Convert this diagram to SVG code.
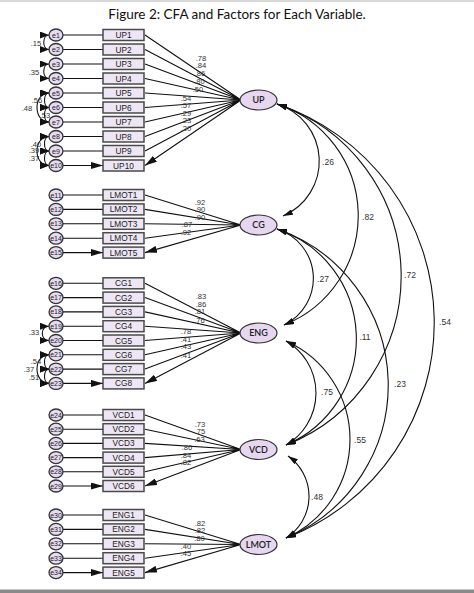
<svg xmlns="http://www.w3.org/2000/svg" width="474" height="593" viewBox="0 0 474 593">
<style>
.bx{fill:#EEE6F4;stroke:#4a4a4a;stroke-width:1.5}
.er{fill:#E6DAF0;stroke:#333;stroke-width:1.3}
.lv{fill:#E6D6F0;stroke:#333;stroke-width:1.2}
.bt{font-family:"Liberation Sans",Arial,sans-serif;font-size:8.3px;fill:#222;text-anchor:middle}
.et{font-family:"Liberation Sans",Arial,sans-serif;font-size:7px;fill:#222;text-anchor:middle}
.lt{font-family:Lato,"Open Sans",sans-serif;font-size:9px;fill:#222;text-anchor:middle;font-weight:600}
.nm{font-family:"Liberation Sans",Arial,sans-serif;font-size:8.5px;fill:#333;text-anchor:middle}
.sm{font-family:"Liberation Sans",Arial,sans-serif;font-size:7.6px;fill:#333;text-anchor:middle}
.ln{stroke:#111;stroke-width:1.1;fill:none;marker-end:url(#ah)}
.cv{stroke:#111;stroke-width:1.1;fill:none;marker-start:url(#ch);marker-end:url(#ch)}
.cl{stroke:#111;stroke-width:1.1;fill:none;marker-start:url(#sh);marker-end:url(#sh)}
</style>
<defs>
<marker id="ah" viewBox="0 0 12 7" markerWidth="12" markerHeight="7" refX="12" refY="3.5" orient="auto" markerUnits="userSpaceOnUse"><path d="M0,0 L12,3.5 L0,7 z" fill="#111"/></marker>
<marker id="ch" viewBox="0 0 10 6" markerWidth="10" markerHeight="6" refX="10" refY="3" orient="auto-start-reverse" markerUnits="userSpaceOnUse"><path d="M0,0 L10,3 L0,6 z" fill="#111"/></marker>
<marker id="sh" viewBox="0 0 9 7" markerWidth="9" markerHeight="7" refX="9" refY="3.5" orient="auto-start-reverse" markerUnits="userSpaceOnUse"><path d="M0,0 L9,3.5 L0,7 z" fill="#111"/></marker>
</defs>
<rect x="0" y="0" width="474" height="2" fill="#d8d8d8"/>
<rect x="0" y="589.5" width="474" height="3.5" fill="#8a8a8a"/>
<text x="237" y="19" style="font-family:Lato,'Open Sans',sans-serif;font-size:13.5px;fill:#111;text-anchor:middle">Figure 2: CFA and Factors for Each Variable.</text>

<g id="connectors">
<path class="ln" d="M63,35H103M63,49.5H103M63,64H103M63,78.5H103M63,93H103M63,107.5H103M63,122H103M63,136.5H103M63,151H103M63,165.5H103"/>
<path class="ln" d="M63,195H103M63,209.4H103M63,223.8H103M63,238.2H103M63,252.6H103"/>
<path class="ln" d="M63,283.3H103M63,297.6H103M63,311.9H103M63,326.2H103M63,340.5H103M63,354.8H103M63,369.1H103M63,383.4H103"/>
<path class="ln" d="M63,415H103M63,429.2H103M63,443.4H103M63,457.6H103M63,471.8H103M63,486H103"/>
<path class="ln" d="M63,515H103M63,529.4H103M63,543.8H103M63,558.2H103M63,572.6H103"/>
<path class="ln" d="M241,100L145,35M241,100L145,49.5M241,100L145,64M241,100L145,78.5M241,100L145,93M241,100L145,107.5M241,100L145,122M241,100L145,136.5M241,100L145,151M241,100L145,165.5"/>
<path class="ln" d="M241,225L145,195M241,225L145,209.4M241,225L145,223.8M241,225L145,238.2M241,225L145,252.6"/>
<path class="ln" d="M241,333L145,283.3M241,333L145,297.6M241,333L145,311.9M241,333L145,326.2M241,333L145,340.5M241,333L145,354.8M241,333L145,369.1M241,333L145,383.4"/>
<path class="ln" d="M241,449.5L145,415M241,449.5L145,429.2M241,449.5L145,443.4M241,449.5L145,457.6M241,449.5L145,471.8M241,449.5L145,486"/>
<path class="ln" d="M241,544.5L145,515M241,544.5L145,529.4M241,544.5L145,543.8M241,544.5L145,558.2M241,544.5L145,572.6"/>
<path class="cl" d="M49,35C42,35 42,49.5 49,49.5"/>
<path class="cl" d="M49,64C42,64 42,78.5 49,78.5"/>
<path class="cl" d="M49,93C43,93 43,107.5 49,107.5"/>
<path class="cl" d="M49,93C33,93 33,122 49,122"/>
<path class="cl" d="M49,107.5C43,107.5 43,122 49,122"/>
<path class="cl" d="M49,136.5C43,136.5 43,151 49,151"/>
<path class="cl" d="M49,136.5C33,136.5 33,165.5 49,165.5"/>
<path class="cl" d="M49,151C43,151 43,165.5 49,165.5"/>
<path class="cl" d="M49,326.2C40,326.2 40,340.5 49,340.5"/>
<path class="cl" d="M49,354.8C43,354.8 43,369.1 49,369.1"/>
<path class="cl" d="M49,354.8C33,354.8 33,383.4 49,383.4"/>
<path class="cl" d="M49,369.1C43,369.1 43,383.4 49,383.4"/>
<path class="cv" d="M277,104A59.7,59.7 0 0 1 283,216"/>
<path class="cv" d="M277,104A117.5,117.5 0 0 1 284,325"/>
<path class="cv" d="M277,104A181.4,181.4 0 0 1 286,445"/>
<path class="cv" d="M277,104A230.6,230.6 0 0 1 286,538"/>
<path class="cv" d="M277,229A51.7,51.7 0 0 1 284,325"/>
<path class="cv" d="M277,229A115.5,115.5 0 0 1 286,445"/>
<path class="cv" d="M277,229A165.3,165.3 0 0 1 286,538"/>
<path class="cv" d="M286,341A60.1,60.1 0 0 1 286,445"/>
<path class="cv" d="M286,341A107.8,107.8 0 0 1 286,538"/>
<path class="cv" d="M288,456A49.2,49.2 0 0 1 286,538"/>
</g>

<g id="labels">
<text class="sm" x="201" y="60.5">.78</text><text class="sm" x="201" y="68">.84</text><text class="sm" x="200" y="75.5">.86</text><text class="sm" x="199.5" y="83.5">.80</text><text class="sm" x="198" y="91.5">.50</text>
<text class="sm" x="186" y="100.5">.54</text><text class="sm" x="186" y="107.5">.57</text><text class="sm" x="186" y="115.5">.29</text><text class="sm" x="186" y="122.5">.23</text><text class="sm" x="186" y="130.5">.20</text>
<text class="sm" x="200" y="204.5">.92</text><text class="sm" x="200" y="212">.90</text><text class="sm" x="200" y="219.5">.90</text><text class="sm" x="187" y="227">.87</text><text class="sm" x="186" y="234.5">.92</text>
<text class="sm" x="201" y="299">.83</text><text class="sm" x="201" y="306.5">.86</text><text class="sm" x="200" y="314">.81</text><text class="sm" x="199.5" y="322.5">.76</text>
<text class="sm" x="186" y="334">.78</text><text class="sm" x="186" y="341.5">.41</text><text class="sm" x="186" y="349">.43</text><text class="sm" x="186" y="357.5">.41</text>
<text class="sm" x="200" y="427">.73</text><text class="sm" x="200" y="434">.75</text><text class="sm" x="199.5" y="442">.63</text><text class="sm" x="187" y="449.5">.86</text><text class="sm" x="186" y="457.5">.84</text><text class="sm" x="186" y="465">.82</text>
<text class="sm" x="200" y="525.5">.82</text><text class="sm" x="200" y="532.5">.82</text><text class="sm" x="199.5" y="541">.80</text><text class="sm" x="186" y="548.5">.40</text><text class="sm" x="186" y="556">.45</text>
<text class="sm" x="36" y="45.5">.15</text><text class="sm" x="34" y="74.5">.35</text><text class="sm" x="37" y="103">.56</text><text class="sm" x="27" y="110.5">.48</text><text class="sm" x="45" y="117.5">.53</text>
<text class="sm" x="36" y="146.5">.40</text><text class="sm" x="34" y="153">.39</text><text class="sm" x="34" y="160.5">.37</text>
<text class="sm" x="34" y="334.5">.33</text><text class="sm" x="36" y="364">.54</text><text class="sm" x="29" y="371.5">.37</text><text class="sm" x="34" y="380">.51</text>
<text class="nm" x="328" y="165">.26</text><text class="nm" x="368" y="220">.82</text><text class="nm" x="410" y="278">.72</text><text class="nm" x="445" y="325">.54</text>
<text class="nm" x="323" y="282">.27</text><text class="nm" x="365" y="340">.11</text><text class="nm" x="400" y="387">.23</text><text class="nm" x="327" y="395">.75</text><text class="nm" x="360" y="443">.55</text><text class="nm" x="317" y="500">.48</text>
</g>

<g id="latent-UP"><ellipse class="lv" cx="258.5" cy="100" rx="18.5" ry="10"/><text class="lt" x="258.5" y="103.3">UP</text></g>
<g id="latent-CG"><ellipse class="lv" cx="258.5" cy="225" rx="18.5" ry="10"/><text class="lt" x="258.5" y="228.3">CG</text></g>
<g id="latent-ENG"><ellipse class="lv" cx="258.5" cy="333" rx="18.5" ry="10"/><text class="lt" x="258.5" y="336.3">ENG</text></g>
<g id="latent-VCD"><ellipse class="lv" cx="258.5" cy="449.5" rx="18.5" ry="10"/><text class="lt" x="258.5" y="452.8">VCD</text></g>
<g id="latent-LMOT"><ellipse class="lv" cx="258.5" cy="544.5" rx="18.5" ry="10"/><text class="lt" x="258.5" y="547.8">LMOT</text></g>

<g id="box-UP1"><rect class="bx" x="103" y="29.5" width="41" height="11"/><text class="bt" x="123.5" y="38">UP1</text></g>
<g id="box-UP2"><rect class="bx" x="103" y="44" width="41" height="11"/><text class="bt" x="123.5" y="52.5">UP2</text></g>
<g id="box-UP3"><rect class="bx" x="103" y="58.5" width="41" height="11"/><text class="bt" x="123.5" y="67">UP3</text></g>
<g id="box-UP4"><rect class="bx" x="103" y="73" width="41" height="11"/><text class="bt" x="123.5" y="81.5">UP4</text></g>
<g id="box-UP5"><rect class="bx" x="103" y="87.5" width="41" height="11"/><text class="bt" x="123.5" y="96">UP5</text></g>
<g id="box-UP6"><rect class="bx" x="103" y="102" width="41" height="11"/><text class="bt" x="123.5" y="110.5">UP6</text></g>
<g id="box-UP7"><rect class="bx" x="103" y="116.5" width="41" height="11"/><text class="bt" x="123.5" y="125">UP7</text></g>
<g id="box-UP8"><rect class="bx" x="103" y="131" width="41" height="11"/><text class="bt" x="123.5" y="139.5">UP8</text></g>
<g id="box-UP9"><rect class="bx" x="103" y="145.5" width="41" height="11"/><text class="bt" x="123.5" y="154">UP9</text></g>
<g id="box-UP10"><rect class="bx" x="103" y="160" width="41" height="11"/><text class="bt" x="123.5" y="168.5">UP10</text></g>

<g id="box-LMOT1"><rect class="bx" x="103" y="189.5" width="41" height="11"/><text class="bt" x="123.5" y="198">LMOT1</text></g>
<g id="box-LMOT2"><rect class="bx" x="103" y="203.9" width="41" height="11"/><text class="bt" x="123.5" y="212.4">LMOT2</text></g>
<g id="box-LMOT3"><rect class="bx" x="103" y="218.3" width="41" height="11"/><text class="bt" x="123.5" y="226.8">LMOT3</text></g>
<g id="box-LMOT4"><rect class="bx" x="103" y="232.7" width="41" height="11"/><text class="bt" x="123.5" y="241.2">LMOT4</text></g>
<g id="box-LMOT5"><rect class="bx" x="103" y="247.1" width="41" height="11"/><text class="bt" x="123.5" y="255.6">LMOT5</text></g>

<g id="box-CG1"><rect class="bx" x="103" y="277.8" width="41" height="11"/><text class="bt" x="123.5" y="286.3">CG1</text></g>
<g id="box-CG2"><rect class="bx" x="103" y="292.1" width="41" height="11"/><text class="bt" x="123.5" y="300.6">CG2</text></g>
<g id="box-CG3"><rect class="bx" x="103" y="306.4" width="41" height="11"/><text class="bt" x="123.5" y="314.9">CG3</text></g>
<g id="box-CG4"><rect class="bx" x="103" y="320.7" width="41" height="11"/><text class="bt" x="123.5" y="329.2">CG4</text></g>
<g id="box-CG5"><rect class="bx" x="103" y="335" width="41" height="11"/><text class="bt" x="123.5" y="343.5">CG5</text></g>
<g id="box-CG6"><rect class="bx" x="103" y="349.3" width="41" height="11"/><text class="bt" x="123.5" y="357.8">CG6</text></g>
<g id="box-CG7"><rect class="bx" x="103" y="363.6" width="41" height="11"/><text class="bt" x="123.5" y="372.1">CG7</text></g>
<g id="box-CG8"><rect class="bx" x="103" y="377.9" width="41" height="11"/><text class="bt" x="123.5" y="386.4">CG8</text></g>

<g id="box-VCD1"><rect class="bx" x="103" y="409.5" width="41" height="11"/><text class="bt" x="123.5" y="418">VCD1</text></g>
<g id="box-VCD2"><rect class="bx" x="103" y="423.7" width="41" height="11"/><text class="bt" x="123.5" y="432.2">VCD2</text></g>
<g id="box-VCD3"><rect class="bx" x="103" y="437.9" width="41" height="11"/><text class="bt" x="123.5" y="446.4">VCD3</text></g>
<g id="box-VCD4"><rect class="bx" x="103" y="452.1" width="41" height="11"/><text class="bt" x="123.5" y="460.6">VCD4</text></g>
<g id="box-VCD5"><rect class="bx" x="103" y="466.3" width="41" height="11"/><text class="bt" x="123.5" y="474.8">VCD5</text></g>
<g id="box-VCD6"><rect class="bx" x="103" y="480.5" width="41" height="11"/><text class="bt" x="123.5" y="489">VCD6</text></g>

<g id="box-ENG1"><rect class="bx" x="103" y="509.5" width="41" height="11"/><text class="bt" x="123.5" y="518">ENG1</text></g>
<g id="box-ENG2"><rect class="bx" x="103" y="523.9" width="41" height="11"/><text class="bt" x="123.5" y="532.4">ENG2</text></g>
<g id="box-ENG3"><rect class="bx" x="103" y="538.3" width="41" height="11"/><text class="bt" x="123.5" y="546.8">ENG3</text></g>
<g id="box-ENG4"><rect class="bx" x="103" y="552.7" width="41" height="11"/><text class="bt" x="123.5" y="561.2">ENG4</text></g>
<g id="box-ENG5"><rect class="bx" x="103" y="567.1" width="41" height="11"/><text class="bt" x="123.5" y="575.6">ENG5</text></g>

<g id="e1"><ellipse class="er" cx="56" cy="35" rx="7" ry="6"/><text class="et" x="56" y="37.5">e1</text></g>
<g id="e2"><ellipse class="er" cx="56" cy="49.5" rx="7" ry="6"/><text class="et" x="56" y="52">e2</text></g>
<g id="e3"><ellipse class="er" cx="56" cy="64" rx="7" ry="6"/><text class="et" x="56" y="66.5">e3</text></g>
<g id="e4"><ellipse class="er" cx="56" cy="78.5" rx="7" ry="6"/><text class="et" x="56" y="81">e4</text></g>
<g id="e5"><ellipse class="er" cx="56" cy="93" rx="7" ry="6"/><text class="et" x="56" y="95.5">e5</text></g>
<g id="e6"><ellipse class="er" cx="56" cy="107.5" rx="7" ry="6"/><text class="et" x="56" y="110">e6</text></g>
<g id="e7"><ellipse class="er" cx="56" cy="122" rx="7" ry="6"/><text class="et" x="56" y="124.5">e7</text></g>
<g id="e8"><ellipse class="er" cx="56" cy="136.5" rx="7" ry="6"/><text class="et" x="56" y="139">e8</text></g>
<g id="e9"><ellipse class="er" cx="56" cy="151" rx="7" ry="6"/><text class="et" x="56" y="153.5">e9</text></g>
<g id="e10"><ellipse class="er" cx="56" cy="165.5" rx="7" ry="6"/><text class="et" x="56" y="168">e10</text></g>
<g id="e11"><ellipse class="er" cx="56" cy="195" rx="7" ry="6"/><text class="et" x="56" y="197.5">e11</text></g>
<g id="e12"><ellipse class="er" cx="56" cy="209.4" rx="7" ry="6"/><text class="et" x="56" y="211.9">e12</text></g>
<g id="e13"><ellipse class="er" cx="56" cy="223.8" rx="7" ry="6"/><text class="et" x="56" y="226.3">e13</text></g>
<g id="e14"><ellipse class="er" cx="56" cy="238.2" rx="7" ry="6"/><text class="et" x="56" y="240.7">e14</text></g>
<g id="e15"><ellipse class="er" cx="56" cy="252.6" rx="7" ry="6"/><text class="et" x="56" y="255.1">e15</text></g>
<g id="e16"><ellipse class="er" cx="56" cy="283.3" rx="7" ry="6"/><text class="et" x="56" y="285.8">e16</text></g>
<g id="e17"><ellipse class="er" cx="56" cy="297.6" rx="7" ry="6"/><text class="et" x="56" y="300.1">e17</text></g>
<g id="e18"><ellipse class="er" cx="56" cy="311.9" rx="7" ry="6"/><text class="et" x="56" y="314.4">e18</text></g>
<g id="e19"><ellipse class="er" cx="56" cy="326.2" rx="7" ry="6"/><text class="et" x="56" y="328.7">e19</text></g>
<g id="e20"><ellipse class="er" cx="56" cy="340.5" rx="7" ry="6"/><text class="et" x="56" y="343">e20</text></g>
<g id="e21"><ellipse class="er" cx="56" cy="354.8" rx="7" ry="6"/><text class="et" x="56" y="357.3">e21</text></g>
<g id="e22"><ellipse class="er" cx="56" cy="369.1" rx="7" ry="6"/><text class="et" x="56" y="371.6">e22</text></g>
<g id="e23"><ellipse class="er" cx="56" cy="383.4" rx="7" ry="6"/><text class="et" x="56" y="385.9">e23</text></g>
<g id="e24"><ellipse class="er" cx="56" cy="415" rx="7" ry="6"/><text class="et" x="56" y="417.5">e24</text></g>
<g id="e25"><ellipse class="er" cx="56" cy="429.2" rx="7" ry="6"/><text class="et" x="56" y="431.7">e25</text></g>
<g id="e26"><ellipse class="er" cx="56" cy="443.4" rx="7" ry="6"/><text class="et" x="56" y="445.9">e26</text></g>
<g id="e27"><ellipse class="er" cx="56" cy="457.6" rx="7" ry="6"/><text class="et" x="56" y="460.1">e27</text></g>
<g id="e28"><ellipse class="er" cx="56" cy="471.8" rx="7" ry="6"/><text class="et" x="56" y="474.3">e28</text></g>
<g id="e29"><ellipse class="er" cx="56" cy="486" rx="7" ry="6"/><text class="et" x="56" y="488.5">e29</text></g>
<g id="e30"><ellipse class="er" cx="56" cy="515" rx="7" ry="6"/><text class="et" x="56" y="517.5">e30</text></g>
<g id="e31"><ellipse class="er" cx="56" cy="529.4" rx="7" ry="6"/><text class="et" x="56" y="531.9">e31</text></g>
<g id="e32"><ellipse class="er" cx="56" cy="543.8" rx="7" ry="6"/><text class="et" x="56" y="546.3">e32</text></g>
<g id="e33"><ellipse class="er" cx="56" cy="558.2" rx="7" ry="6"/><text class="et" x="56" y="560.7">e33</text></g>
<g id="e34"><ellipse class="er" cx="56" cy="572.6" rx="7" ry="6"/><text class="et" x="56" y="575.1">e34</text></g>
</svg>
